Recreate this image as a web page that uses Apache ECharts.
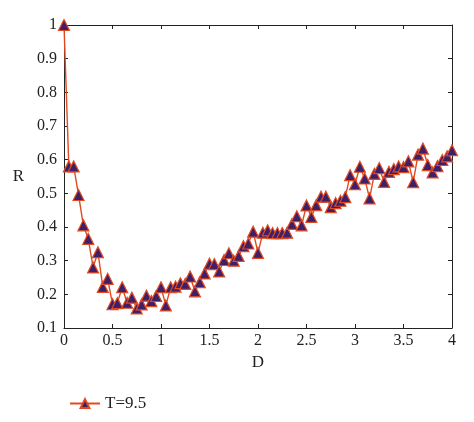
<!DOCTYPE html>
<html>
<head>
<meta charset="utf-8">
<script src="https://cdn.jsdelivr.net/npm/echarts@6/dist/echarts.min.js"></script>
<style>
html,body{margin:0;padding:0;background:#fff;}
#chart{width:474px;height:422px;}
</style>
</head>
<body>
<div id="chart"></div>
<script>
const seriesName = 'T=9.5';
const dValues = [0,0.05,0.1,0.15,0.2,0.25,0.3,0.35,0.4,0.45,0.5,0.55,0.6,0.65,0.7,0.75,0.8,0.85,0.9,0.95,
  1.0,1.05,1.1,1.15,1.2,1.25,1.3,1.35,1.4,1.45,1.5,1.55,1.6,1.65,1.7,1.75,1.8,1.85,1.9,1.95,
  2.0,2.05,2.1,2.15,2.2,2.25,2.3,2.35,2.4,2.45,2.5,2.55,2.6,2.65,2.7,2.75,2.8,2.85,2.9,2.95,
  3.0,3.05,3.1,3.15,3.2,3.25,3.3,3.35,3.4,3.45,3.5,3.55,3.6,3.65,3.7,3.75,3.8,3.85,3.9,3.95,4.0];
const rValues = [1.0,0.58,0.58,0.495,0.405,0.365,0.28,0.325,0.222,0.246,0.171,0.174,0.221,0.175,0.19,0.158,0.17,0.196,0.18,0.195,
  0.221,0.167,0.221,0.223,0.233,0.231,0.253,0.209,0.236,0.262,0.291,0.29,0.268,0.302,0.322,0.3,0.314,0.343,0.351,0.386,
  0.323,0.383,0.39,0.382,0.382,0.382,0.383,0.409,0.432,0.405,0.464,0.43,0.465,0.49,0.49,0.459,0.471,0.478,0.489,0.554,
  0.527,0.579,0.544,0.485,0.558,0.575,0.534,0.564,0.572,0.58,0.578,0.595,0.533,0.615,0.633,0.584,0.562,0.581,0.599,0.61,0.628];
const xTickLabels = ['0','0.5','1','1.5','2','2.5','3','3.5','4'];
const yTickLabels = ['0.1','0.2','0.3','0.4','0.5','0.6','0.7','0.8','0.9','1'];

const font = 'Liberation Serif';
const axisColor = '#222';
const data = dValues.map((d, i) => [d, rValues[i]]);

const baseX = {
  type: 'value', min: 0, max: 4, interval: 0.5,
  axisLine: {show: true, onZero: false, lineStyle: {color: axisColor, width: 1}},
  axisTick: {show: true, inside: true, length: 4, lineStyle: {color: axisColor}},
  splitLine: {show: false}
};
const baseY = {
  type: 'value', min: 0.1, max: 1, interval: 0.1,
  axisLine: {show: true, onZero: false, lineStyle: {color: axisColor, width: 1}},
  axisTick: {show: true, inside: true, length: 4, lineStyle: {color: axisColor}},
  splitLine: {show: false}
};

const chart = echarts.init(document.getElementById('chart'), null, {renderer: 'canvas'});
chart.setOption({
  backgroundColor: '#fff',
  animation: false,
  grid: {left: 64, right: 22, top: 25, bottom: 94, containLabel: false},
  legend: {
    left: 64, top: 390,
    itemWidth: 30, itemHeight: 11,
    textStyle: {fontFamily: font, fontSize: 17, color: '#222'},
    data: [seriesName]
  },
  xAxis: [
    Object.assign({}, baseX, {
      position: 'bottom',
      name: 'D', nameLocation: 'middle', nameGap: 19,
      nameTextStyle: {fontFamily: font, fontSize: 17, color: '#222'},
      axisLabel: {fontFamily: font, fontSize: 16, color: '#222', margin: 5,
        formatter: v => xTickLabels[Math.round(v / 0.5)] || ''}
    }),
    Object.assign({}, baseX, {position: 'top', axisLabel: {show: false}})
  ],
  yAxis: [
    Object.assign({}, baseY, {
      position: 'left',
      name: 'R', nameLocation: 'middle', nameGap: 40, nameRotate: 0,
      nameTextStyle: {fontFamily: font, fontSize: 17, color: '#222'},
      axisLabel: {fontFamily: font, fontSize: 16, color: '#222', margin: 7,
        formatter: v => yTickLabels[Math.round(v * 10) - 1] || ''}
    }),
    Object.assign({}, baseY, {position: 'right', axisLabel: {show: false}})
  ],
  series: [{
    name: seriesName,
    type: 'line',
    xAxisIndex: 0, yAxisIndex: 0,
    data: data,
    symbol: 'triangle',
    symbolSize: 11,
    showAllSymbol: true,
    lineStyle: {color: '#e04a22', width: 1.4},
    itemStyle: {color: '#3e1f68', borderColor: '#e04a22', borderWidth: 1.2}
  }]
});
</script>
</body>
</html>
